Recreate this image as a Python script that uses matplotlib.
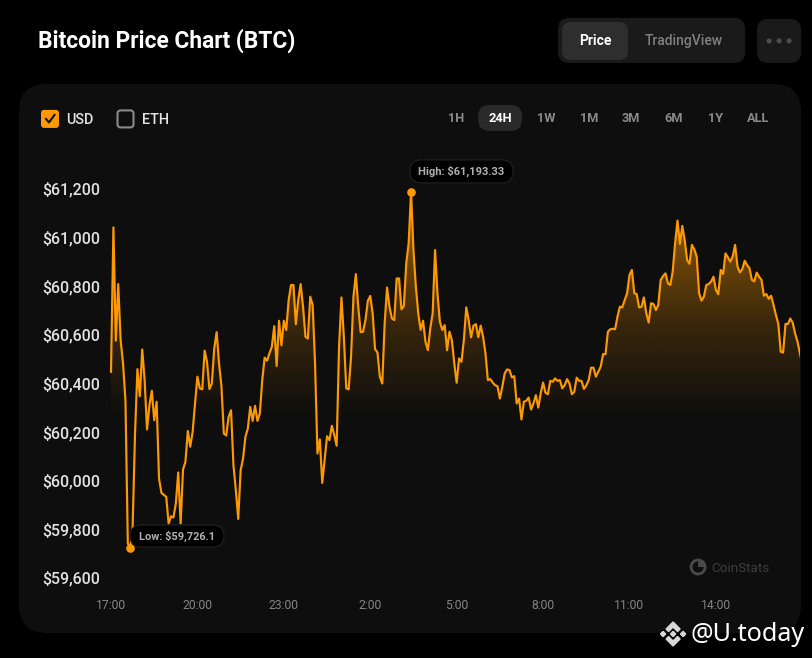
import numpy as np
import matplotlib
matplotlib.use("Agg")
import matplotlib.pyplot as plt
from matplotlib.patches import FancyBboxPatch, Circle, Polygon, Wedge
from matplotlib.colors import LinearSegmentedColormap
from matplotlib.transforms import ScaledTranslation

plt.rcParams["font.family"] = ["Roboto", "DejaVu Sans"]

# prices, one every 5 minutes from 17:00
prices = [
    60452, 61046, 60580, 60813, 60583, 60487, 60336, 59746, 59726.1, 59814, 60198, 60463,
    60352, 60544, 60418, 60215, 60315, 60374, 60253, 60329, 60013, 59954, 59946, 59938,
    59828, 59858, 59853, 59910, 60038, 59828, 60050, 60082, 60209, 60144, 60205, 60322,
    60432, 60384, 60380, 60539, 60493, 60381, 60404, 60548, 60615, 60487, 60393, 60198,
    60190, 60267, 60294, 60068, 59965, 59847, 60047, 60095, 60185, 60219, 60308, 60250,
    60312, 60250, 60281, 60418, 60510, 60498, 60528, 60555, 60640, 60476, 60662, 60561,
    60662, 60624, 60747, 60809, 60809, 60648, 60747, 60813, 60720, 60596, 60589, 60761,
    60727, 60487, 60116, 60174, 59995, 60089, 60187, 60171, 60230, 60192, 60148, 60555,
    60758, 60596, 60384, 60380, 60514, 60761, 60854, 60720, 60615, 60617, 60665, 60744,
    60764, 60692, 60545, 60532, 60432, 60404, 60651, 60799, 60720, 60672, 60665, 60836,
    60836, 60709, 60723, 60898, 60980, 61193.33, 60953, 60802, 60692, 60624, 60662, 60576,
    60541, 60631, 60692, 60953, 60775, 60658, 60624, 60644, 60541, 60617, 60583, 60487,
    60407, 60507, 60493, 60583, 60717, 60665, 60594, 60642, 60648, 60594, 60642, 60596,
    60528, 60418, 60422, 60408, 60397, 60393, 60342, 60390, 60445, 60462, 60459, 60429,
    60434, 60322, 60342, 60256, 60329, 60333, 60346, 60297, 60322, 60356, 60305, 60363,
    60408, 60366, 60360, 60415, 60411, 60425, 60415, 60418, 60384, 60397, 60422, 60404,
    60360, 60370, 60428, 60415, 60415, 60382, 60396, 60418, 60469, 60469, 60432, 60452,
    60473, 60525, 60524, 60617, 60627, 60629, 60627, 60679, 60720, 60717, 60747, 60775,
    60850, 60871, 60775, 60772, 60717, 60720, 60758, 60693, 60655, 60734, 60731, 60706,
    60727, 60830, 60846, 60857, 60816, 60809, 60864, 60981, 61074, 60978, 61052, 60994,
    60912, 60896, 60974, 60956, 60926, 60775, 60745, 60761, 60809, 60813, 60823, 60843,
    60789, 60771, 60871, 60854, 60939, 60923, 60905, 60926, 60974, 60885, 60861, 60874,
    60909, 60891, 60878, 60830, 60824, 60860, 60843, 60830, 60765, 60772, 60752, 60765,
    60727, 60686, 60649, 60535, 60531, 60649, 60649, 60671, 60654, 60610, 60576, 60528,
    60484,
]
y_ticks = [59600, 59800, 60000, 60200, 60400, 60600, 60800, 61000, 61200]
y_labels = ["$59,600", "$59,800", "$60,000", "$60,200", "$60,400", "$60,600", "$60,800", "$61,000", "$61,200"]
x_ticks = [0, 3, 6, 9, 12, 15, 18, 21]
x_labels = ["17:00", "20:00", "23:00", "2:00", "5:00", "8:00", "11:00", "14:00"]
ranges = ["1H", "24H", "1W", "1M", "3M", "6M", "1Y", "ALL"]
range_pos = [456, 500, 546, 589, 631, 674, 715, 758]

prices = np.array(prices)
hours = 0.035 + np.arange(len(prices)) * 5 / 60

W, H = 812, 658
ORANGE = "#ff9900"

fig = plt.figure(figsize=(8.121, 6.581), dpi=100, facecolor="black")


def pixel_axes(zorder):
    a = fig.add_axes([0, 0, 1, 1], zorder=zorder)
    a.set_xlim(0, W)
    a.set_ylim(H, 0)
    a.axis("off")
    a.patch.set_alpha(0)
    return a


def box(a, x0, y0, x1, y1, r, color, **kw):
    a.add_patch(FancyBboxPatch((x0 + r, y0 + r), x1 - x0 - 2 * r, y1 - y0 - 2 * r,
                               boxstyle=f"round,pad={r},rounding_size={r}",
                               facecolor=color, edgecolor=kw.pop("edgecolor", "none"), **kw))


# page furniture
bg = pixel_axes(0)
box(bg, 19, 84, 801, 633, 28, "#0e0e0e")
bg.text(38, 41, "Bitcoin Price Chart (BTC)", color="white", fontsize=16.4, fontweight="bold", va="center")

box(bg, 558, 18, 745, 63, 11, "#1a1a1a")
box(bg, 562, 22, 628, 60, 9, "#2e2e2e")
bg.text(595, 40.5, "Price", color="white", fontsize=10, fontweight="bold", ha="center", va="center")
bg.text(684, 40.5, "TradingView", color="#7f7f7f", fontsize=10, fontweight="medium", ha="center", va="center")
box(bg, 757, 19, 801, 63, 11, "#1a1a1a")
for dx in [769, 779, 789]:
    bg.add_patch(Circle((dx, 41), 1.8, color="#4e4e4e"))

box(bg, 41, 110, 59, 128, 3, ORANGE)
bg.plot([46, 49, 54.5], [119, 122.5, 115], color="#111111", lw=1.5)
bg.text(66, 119.5, "USD", color="#e4e4e4", fontsize=10.4, fontweight="medium", va="center")
box(bg, 117.5, 110.5, 133.5, 127.5, 3, "none", edgecolor="#8a8a8a", linewidth=1.5)
bg.text(142, 119.5, "ETH", color="#e4e4e4", fontsize=10.4, fontweight="medium", va="center")

box(bg, 478, 105, 522, 131, 12, "#2a2a2a")
for label, px in zip(ranges, range_pos):
    bg.text(px, 118, label, color="white" if label == "24H" else "#8a8a8a", fontsize=9.2,
            fontweight="bold", ha="center", va="center")

# coinstats mark
bg.add_patch(Circle((698, 567), 7, facecolor="none", edgecolor="#4a4a4a", linewidth=2))
bg.add_patch(Wedge((698, 567), 7, 270, 360, facecolor="#4a4a4a"))
bg.text(711, 568, "CoinStats", color="#3d3d3d", fontsize=9.7, va="center")

# chart
ax = fig.add_axes([105 / W, 1 - 579 / H, (800 - 105) / W, (579 - 150) / H], zorder=2)
ax.patch.set_alpha(0)
ax.set_xlim((105 - 110) / 28.8, (800 - 110) / 28.8)
ax.set_ylim(59600, 61364.6)

fill = ax.fill_between(hours, prices, 59600, color="none")
grad = LinearSegmentedColormap.from_list(
    "fade", [(0, (1, 0.6, 0, 0)), (0.4, (1, 0.6, 0, 0.17)), (1, (1, 0.6, 0, 0.6))], N=256)
img = ax.imshow(np.linspace(1, 0, 256).reshape(-1, 1),
                extent=[hours[0], hours[-1], 60260, 61193], aspect="auto", cmap=grad,
                origin="upper", zorder=1, interpolation="bilinear")
img.set_clip_path(fill.get_paths()[0], transform=ax.transData)
ax.set_xlim((105 - 110) / 28.8, (800 - 110) / 28.8)
ax.set_ylim(59600, 61364.6)

ax.plot(hours, prices, color=ORANGE, lw=1.55, zorder=3, solid_joinstyle="round")
low_i, high_i = prices.argmin(), prices.argmax()
ax.plot(hours[[low_i, high_i]], prices[[low_i, high_i]], "o", color=ORANGE, ms=6.2, mew=0, zorder=4)

ax.set_yticks(y_ticks, y_labels)
ax.set_xticks(x_ticks, x_labels)
ax.tick_params(axis="y", length=0, pad=3.6, labelsize=11.5, labelcolor="#e2e2e2")
ax.tick_params(axis="x", length=0, pad=14.6, labelsize=8.7, labelcolor="#858585")
up = ScaledTranslation(0, 1.5 / 100, fig.dpi_scale_trans)
right = ScaledTranslation(0.7 / 100, 0, fig.dpi_scale_trans)
for t in ax.get_yticklabels():
    t.set_fontweight("medium")
    t.set_transform(t.get_transform() + up)
for t in ax.get_xticklabels():
    t.set_transform(t.get_transform() + right)
for s in ax.spines.values():
    s.set_visible(False)

# pills and watermark on top
fg = pixel_axes(3)
box(fg, 410, 160, 513, 183, 11, "black", edgecolor="#222222", linewidth=0.8)
fg.text(461.5, 171, "High: $" + f"{prices.max():,.2f}", color="#b0b0b0", fontsize=8.0,
        fontweight="bold", ha="center", va="center")
box(fg, 130, 525, 224, 547, 11, "black", edgecolor="#222222", linewidth=0.8)
fg.text(177, 536, "Low: $" + f"{prices.min():,.1f}", color="#b0b0b0", fontsize=7.9,
        fontweight="bold", ha="center", va="center")

fg.text(690, 634, "@U.today", color="white", fontsize=18.1, va="center", family=["Noto Sans", "DejaVu Sans"])
cx, cy = 673, 634
for dx, dy, s in [(-10, 0, 2.6), (10, 0, 2.6), (0, 0, 2.6)]:
    fg.add_patch(Polygon([(cx + dx - s, cy + dy), (cx + dx, cy + dy - s), (cx + dx + s, cy + dy), (cx + dx, cy + dy + s)],
                         color="#d8d8d8"))
for sign in [-1, 1]:
    fg.add_patch(Polygon([(cx - 7, cy + sign * 5), (cx, cy + sign * 12), (cx + 7, cy + sign * 5), (cx + 4.5, cy + sign * 2.5),
                          (cx, cy + sign * 7), (cx - 4.5, cy + sign * 2.5)], color="#d8d8d8"))

fig.savefig("out.png", dpi=100, facecolor="black")
